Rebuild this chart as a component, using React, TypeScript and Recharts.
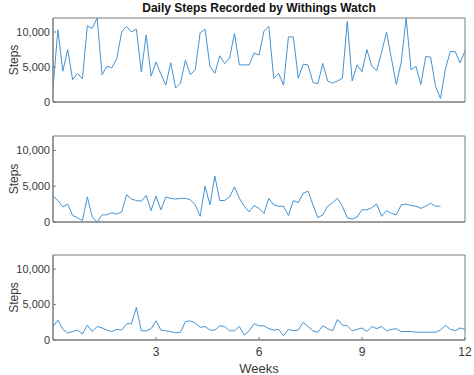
import React from 'react';
import { LineChart, Line, XAxis, YAxis, ReferenceArea } from 'recharts';

// one value per day, 12 weeks
const stepsWatch1 = [
  2100, 10300, 4400, 7500, 3200, 4100, 3300, 10900, 10500, 12000, 3900, 5100, 4900, 6200,
  10000, 10800, 10000, 10400, 4300, 9600, 3700, 5700, 4000, 2400, 5600, 2000, 2700, 6000,
  3900, 4600, 9900, 10400, 5100, 4100, 6600, 5500, 6300, 9800, 5300, 5300, 5300, 7000,
  6700, 10100, 10800, 3400, 4100, 2400, 9300, 9300, 3400, 5400, 5300, 2800, 2600, 5500,
  3000, 2700, 3000, 3400, 11500, 3000, 5300, 4300, 7500, 5100, 4500, 7100, 10000, 6200,
  2500, 5700, 12000, 4600, 5100, 2500, 6500, 6400, 2200, 500, 4700, 7200, 7200, 5600, 7300,
];

const stepsWatch2 = [
  3600, 3000, 2100, 2500, 900, 600, 200, 3500, 700, 0, 1000, 1000, 1300, 1100,
  1400, 3800, 3200, 3000, 2900, 3700, 1600, 3600, 1700, 3500, 3300, 3200, 3300, 3300,
  3100, 2400, 800, 5000, 2400, 6400, 3000, 3000, 3500, 4900, 3300, 2200, 1400, 2300,
  1900, 1200, 3300, 2400, 2200, 2200, 900, 3000, 2700, 4000, 4300, 2400, 600, 1000,
  2200, 2700, 3300, 2200, 600, 400, 700, 1700, 1700, 2000, 2500, 800, 1600, 1200,
  1000, 2400, 2500, 2300, 2200, 1900, 2200, 2600, 2200, 2200,
];

const stepsWatch3 = [
  1900, 2800, 1500, 1000, 1200, 1400, 850, 2100, 1200, 1900, 1700, 1400, 1200, 1500,
  1400, 2300, 2300, 4600, 1300, 1300, 1600, 2700, 1400, 1300, 1200, 1000, 1100, 2600,
  2700, 2400, 1800, 1900, 1400, 1400, 2000, 1900, 1300, 1300, 1900, 700, 1300, 2300,
  2000, 2000, 1600, 1400, 1500, 600, 1500, 1300, 1400, 2500, 1900, 1300, 1100, 2000,
  1600, 1300, 2900, 2100, 2000, 1300, 1500, 1700, 1200, 1900, 1600, 1900, 1300, 1500,
  1600, 1200, 1200, 1200, 1100, 1100, 1100, 1100, 1100, 1400, 2100, 1500, 1300, 1700, 1500,
];

const weekTicks = [3, 6, 9, 12];
const stepTicks = [0, 5000, 10000];

const toRows = (values: number[]) => values.map((steps, i) => ({ week: i / 7, steps }));

const FONT = '"Liberation Sans", Arial, sans-serif';
const AXIS = '#7a7a7a';
const TEXT = '#3a3a3a';
const LINE = '#4393d3';

const fmt = (v: number) => v.toLocaleString('en-US');

const StepsLabel = (props: any) => {
  const { viewBox } = props;
  const cx = viewBox.x + 14;
  const cy = viewBox.y + viewBox.height / 2;
  return (
    <text
      x={cx}
      y={cy}
      transform={`rotate(-90 ${cx} ${cy})`}
      textAnchor="middle"
      dominantBaseline="central"
      fill={TEXT}
      fontSize={12}
    >
      Steps
    </text>
  );
};

interface PanelProps {
  values: number[];
  top: number;
  height: number;
  plotTop: number;
  bottomAxis: number;
  showWeeks?: boolean;
}

const Panel: React.FC<PanelProps> = ({ values, top, height, plotTop, bottomAxis, showWeeks }) => (
  <div style={{ position: 'absolute', left: 0, top }}>
    <LineChart
      width={474}
      height={height}
      data={toRows(values)}
      margin={{ top: plotTop, right: 9, bottom: 0, left: 0 }}
      style={{ fontFamily: FONT }}
    >
      <XAxis
        dataKey="week"
        type="number"
        domain={[0, 12]}
        ticks={weekTicks}
        allowDataOverflow
        height={bottomAxis}
        stroke={AXIS}
        tickSize={-3}
        tickMargin={10}
        tick={showWeeks ? { fill: TEXT, fontSize: 12 } : false}
        label={showWeeks ? { value: 'Weeks', position: 'insideBottom', offset: 2, fill: TEXT, fontSize: 13 } : undefined}
      />
      <YAxis
        type="number"
        domain={[0, 12000]}
        ticks={stepTicks}
        interval={0}
        allowDataOverflow
        width={53}
        stroke={AXIS}
        tickSize={-3}
        tickMargin={6}
        tickFormatter={fmt}
        tick={{ fill: TEXT, fontSize: 11 }}
        label={<StepsLabel />}
      />
      {/* box around the axes, like the MATLAB frame */}
      <ReferenceArea x1={0} x2={12} y1={0} y2={12000} fill="none" stroke={AXIS} strokeWidth={1} />
      <Line
        type="linear"
        dataKey="steps"
        stroke={LINE}
        strokeWidth={1}
        dot={false}
        isAnimationActive={false}
      />
    </LineChart>
  </div>
);

export default function App() {
  return (
    <div style={{ position: 'absolute', left: 0, top: 0, width: 474, height: 375, background: '#fff', fontFamily: FONT }}>
      <div
        style={{
          position: 'absolute',
          left: 53,
          top: 1,
          width: 412,
          textAlign: 'center',
          fontWeight: 'bold',
          fontSize: 12,
          lineHeight: '15px',
          color: '#111',
        }}
      >
        Daily Steps Recorded by Withings Watch
      </div>
      <Panel values={stepsWatch1} top={0} height={112} plotTop={18} bottomAxis={10} />
      <Panel values={stepsWatch2} top={120} height={112} plotTop={16} bottomAxis={10} />
      <Panel values={stepsWatch3} top={235} height={140} plotTop={20} bottomAxis={35} showWeeks />
    </div>
  );
}
